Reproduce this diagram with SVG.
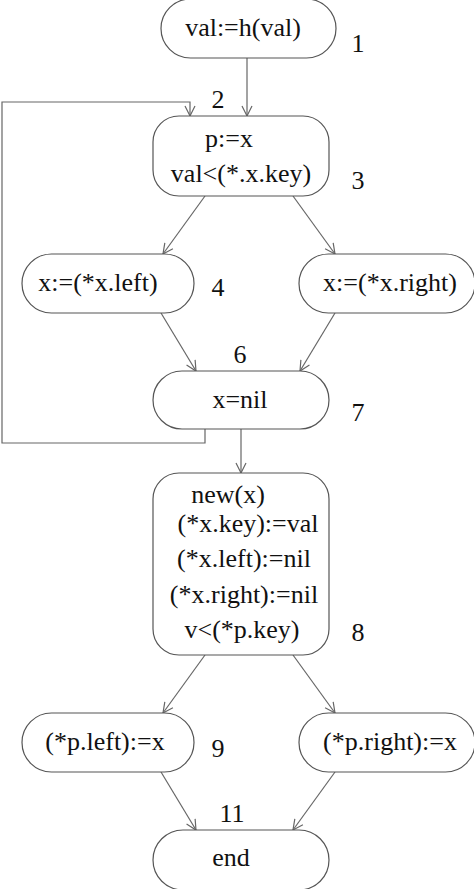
<svg xmlns="http://www.w3.org/2000/svg" width="474" height="889" viewBox="0 0 474 889">
<style>
.n{fill:#fff;stroke:#555;stroke-width:1.2}
.t{font-family:"Liberation Serif","Times New Roman",serif;font-size:26px;fill:#111;text-anchor:middle}
.c{fill:none;stroke:#666;stroke-width:1.2}
</style>
<defs>
<marker id="a" markerUnits="userSpaceOnUse" markerWidth="14" markerHeight="14" refX="12" refY="6" orient="auto">
<path d="M2,1 L12,6 L2,11" fill="none" stroke="#666" stroke-width="1.2"/>
</marker>
</defs>
<rect width="474" height="889" fill="#fff"/>
<g id="connectors">
<path class="c" d="M247,58 V116" marker-end="url(#a)"/>
<path class="c" d="M205,429 V443 H2 V102 H190 V116" marker-end="url(#a)"/>
<path class="c" d="M205,196 L163,254" marker-end="url(#a)"/>
<path class="c" d="M293,196 L335,254" marker-end="url(#a)"/>
<path class="c" d="M161,313 L196,371" marker-end="url(#a)"/>
<path class="c" d="M335,313 L300,371" marker-end="url(#a)"/>
<path class="c" d="M241,429 V473" marker-end="url(#a)"/>
<path class="c" d="M205,655 L163,713" marker-end="url(#a)"/>
<path class="c" d="M293,655 L335,713" marker-end="url(#a)"/>
<path class="c" d="M161,772 L196,830" marker-end="url(#a)"/>
<path class="c" d="M335,772 L293,830" marker-end="url(#a)"/>
</g>
<g id="n1">
<rect class="n" x="161" y="-1" width="175" height="59" rx="29.5"/>
<text class="t" x="243" y="36">val:=h(val)</text>
<text class="t" x="358" y="52">1</text>
</g>
<g id="n3">
<rect class="n" x="153" y="116" width="176" height="80" rx="26"/>
<text class="t" x="229" y="147">p:=x</text>
<text class="t" x="241" y="182">val&lt;(*.x.key)</text>
<text class="t" x="218" y="108">2</text>
<text class="t" x="358" y="189">3</text>
</g>
<g id="n4">
<rect class="n" x="22" y="254" width="172" height="59" rx="29.5"/>
<text class="t" x="98" y="291">x:=(*x.left)</text>
<text class="t" x="218" y="296">4</text>
</g>
<g id="n5">
<rect class="n" x="299" y="254" width="176" height="59" rx="29.5"/>
<text class="t" x="390" y="291">x:=(*x.right)</text>
</g>
<g id="n7">
<rect class="n" x="153" y="371" width="176" height="58" rx="29"/>
<text class="t" x="240" y="408">x=nil</text>
<text class="t" x="240" y="363">6</text>
<text class="t" x="358" y="421">7</text>
</g>
<g id="n8">
<rect class="n" x="153" y="473" width="176" height="182" rx="26"/>
<text class="t" x="228" y="503">new(x)</text>
<text class="t" x="248" y="532">(*x.key):=val</text>
<text class="t" x="244" y="567">(*x.left):=nil</text>
<text class="t" x="244" y="603">(*x.right):=nil</text>
<text class="t" x="242" y="638">v&lt;(*p.key)</text>
<text class="t" x="358" y="641">8</text>
</g>
<g id="n9">
<rect class="n" x="22" y="713" width="172" height="59" rx="29.5"/>
<text class="t" x="105" y="750">(*p.left):=x</text>
<text class="t" x="218" y="757">9</text>
</g>
<g id="n10">
<rect class="n" x="299" y="713" width="176" height="59" rx="29.5"/>
<text class="t" x="390" y="750">(*p.right):=x</text>
</g>
<g id="n11">
<rect class="n" x="153" y="830" width="176" height="60" rx="30"/>
<text class="t" x="231" y="866">end</text>
<text class="t" x="232" y="822">11</text>
</g>
</svg>
